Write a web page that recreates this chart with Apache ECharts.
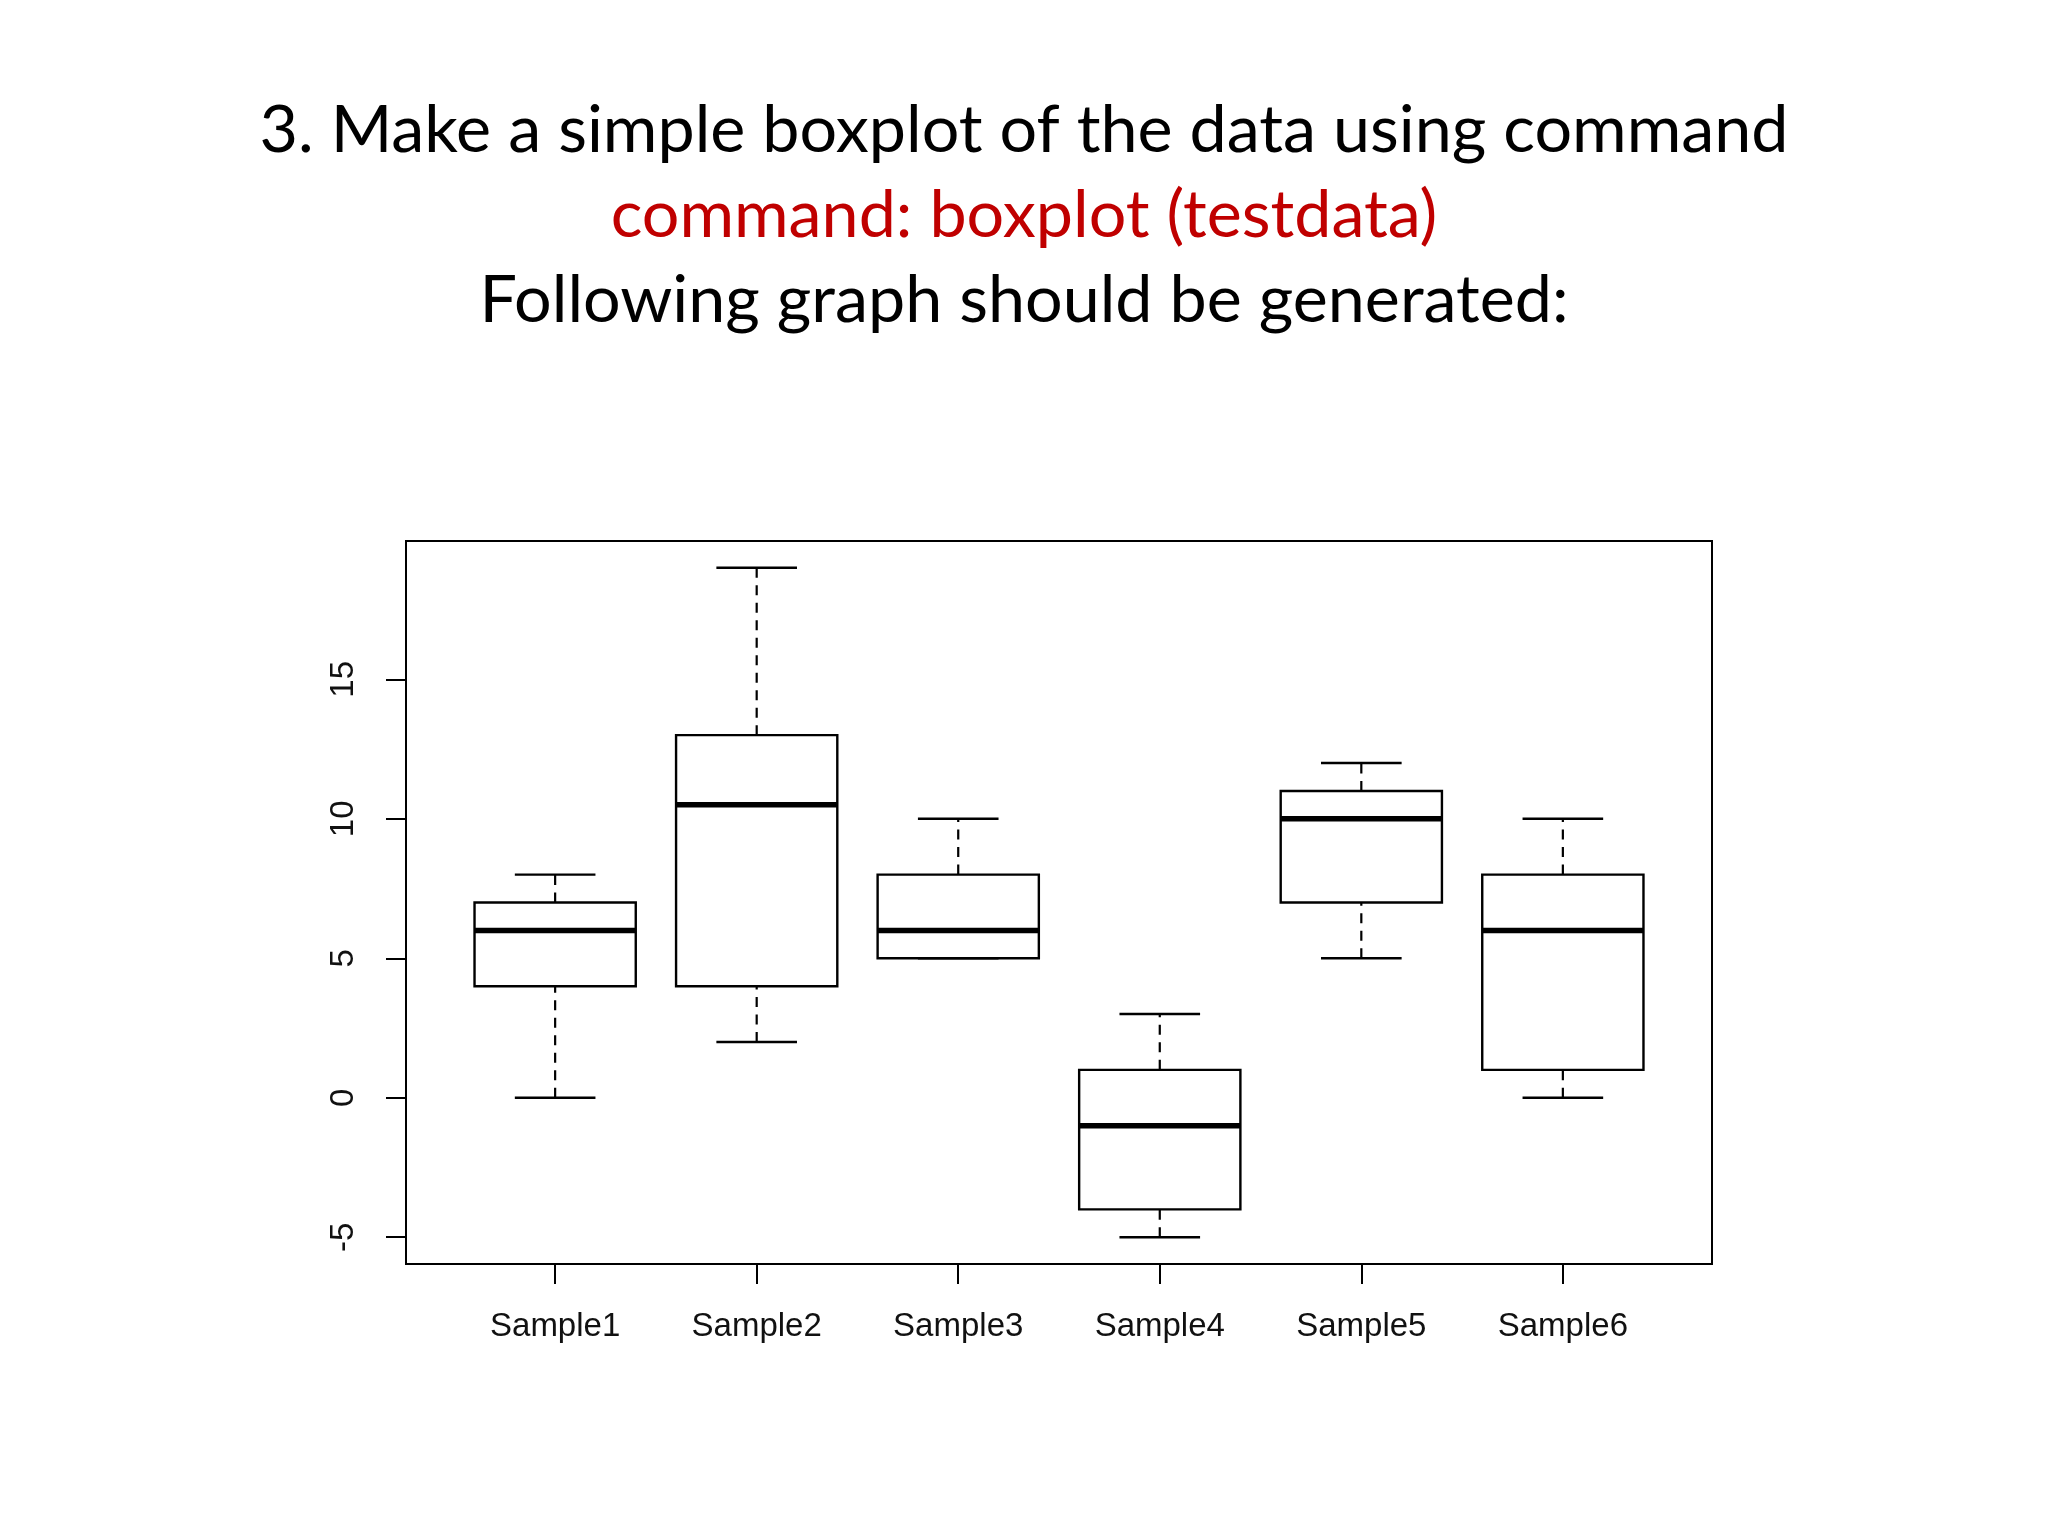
<!DOCTYPE html>
<html>
<head>
<meta charset="utf-8">
<script src="https://cdn.jsdelivr.net/npm/echarts@6/dist/echarts.min.js"></script>
<style>
html,body{margin:0;padding:0;background:#fff;}
#chart{width:2048px;height:1536px;}
</style>
</head>
<body>
<div id="chart"></div>
<script>
// ---- data ----
const categories = ['Sample1','Sample2','Sample3','Sample4','Sample5','Sample6'];
const mins    = [0, 2, 5, -5, 5, 0];
const q1s     = [4, 4, 5, -4, 7, 1];
const medians = [6, 10.5, 6, -1, 10, 6];
const q3s     = [7, 13, 8, 1, 11, 8];
const maxs    = [8, 19, 10, 3, 12, 10];
const yTicks  = [-5, 0, 5, 10, 15];
const titleLines = [
  '3. Make a simple boxplot of the data using command',
  'command: boxplot (testdata)',
  'Following graph should be generated:'
];

const xPositions = categories.map((c, i) => i + 1);
const boxData = categories.map((c, i) => [xPositions[i], mins[i], q1s[i], medians[i], q3s[i], maxs[i]]);

const BOX_W = 0.8, STAPLE_W = 0.4;
const LABEL_FONT = '"Liberation Sans", Arial, sans-serif';
const TITLE_FONT = 'Lato, "Open Sans", sans-serif';

function renderItem(params, api) {
  const x = api.value(0);
  const vMin = api.value(1), vQ1 = api.value(2), vMed = api.value(3), vQ3 = api.value(4), vMax = api.value(5);
  const cx = api.coord([x, vMed])[0];
  const y = v => api.coord([x, v])[1];
  const half = api.size([BOX_W, 0])[0] / 2;
  const sHalf = api.size([STAPLE_W, 0])[0] / 2;
  const solid = { stroke: '#000', lineWidth: 2.4, fill: null };
  const dashed = { stroke: '#000', lineWidth: 2.2, lineDash: [10, 7.5], fill: null };
  return {
    type: 'group',
    children: [
      { type: 'line', shape: { x1: cx, y1: y(vQ3), x2: cx, y2: y(vMax) }, style: dashed },
      { type: 'line', shape: { x1: cx, y1: y(vMin), x2: cx, y2: y(vQ1) }, style: dashed },
      { type: 'line', shape: { x1: cx - sHalf, y1: y(vMax), x2: cx + sHalf, y2: y(vMax) }, style: solid },
      { type: 'line', shape: { x1: cx - sHalf, y1: y(vMin), x2: cx + sHalf, y2: y(vMin) }, style: solid },
      { type: 'rect', shape: { x: cx - half, y: y(vQ3), width: 2 * half, height: y(vQ1) - y(vQ3) },
        style: { stroke: '#000', lineWidth: 2.4, fill: '#fff' } },
      { type: 'line', shape: { x1: cx - half, y1: y(vMed), x2: cx + half, y2: y(vMed) },
        style: { stroke: '#000', lineWidth: 5.5 } }
    ]
  };
}

const chart = echarts.init(document.getElementById('chart'), null, { renderer: 'canvas' });
chart.setOption({
  backgroundColor: '#ffffff',
  animation: false,
  graphic: titleLines.map((t, i) => ({
    type: 'text',
    x: 1024,
    y: [131, 216, 301][i],
    style: {
      text: t,
      fill: i === 1 ? '#C00000' : '#000000',
      font: '66.4px ' + TITLE_FONT,
      align: 'center',
      verticalAlign: 'middle'
    }
  })),
  grid: {
    left: 406, right: 336, top: 541, bottom: 272,
    show: true, borderColor: '#000', borderWidth: 2, backgroundColor: 'transparent'
  },
  xAxis: {
    type: 'value',
    min: 0.26, max: 6.74,
    axisLine: { show: false, onZero: false },
    splitLine: { show: false },
    axisTick: { show: true, length: 20, inside: false, customValues: xPositions,
      lineStyle: { color: '#000', width: 2 } },
    axisLabel: {
      show: true, margin: 46, customValues: xPositions,
      formatter: v => categories[Math.round(v) - 1] || '',
      fontFamily: LABEL_FONT, fontSize: 33, color: '#111'
    }
  },
  yAxis: {
    type: 'value',
    min: -5.96, max: 19.96,
    axisLine: { show: false, onZero: false },
    splitLine: { show: false },
    axisTick: { show: true, length: 20, inside: false, customValues: yTicks,
      lineStyle: { color: '#000', width: 2 } },
    axisLabel: {
      show: true, margin: 46, rotate: 90, customValues: yTicks,
      fontFamily: LABEL_FONT, fontSize: 33, color: '#111'
    }
  },
  series: [{
    type: 'custom',
    renderItem: renderItem,
    encode: { x: 0, y: [1, 2, 3, 4, 5] },
    data: boxData,
    clip: false
  }]
});
</script>
</body>
</html>
